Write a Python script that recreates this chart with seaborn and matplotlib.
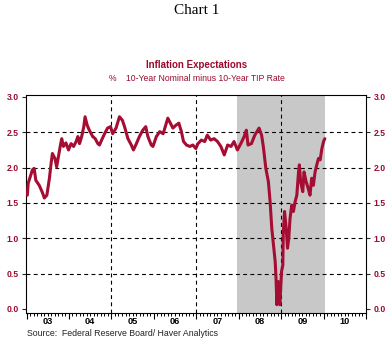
import numpy as np
import pandas as pd
import matplotlib
matplotlib.use("Agg")
import matplotlib.pyplot as plt
from matplotlib.ticker import FixedLocator, FixedFormatter
import seaborn as sns

# ---- data (decimal year, % spread) ----
dates = [
    2003.02, 2003.04, 2003.14, 2003.18, 2003.22, 2003.30, 2003.38, 2003.42, 2003.48, 2003.54,
    2003.58, 2003.61, 2003.67, 2003.71, 2003.73, 2003.80, 2003.83, 2003.87, 2003.93, 2003.99,
    2004.05, 2004.11, 2004.17, 2004.21, 2004.25, 2004.30, 2004.35, 2004.38, 2004.43, 2004.48,
    2004.56, 2004.62, 2004.68, 2004.72, 2004.77, 2004.84, 2004.91, 2004.98, 2005.03, 2005.11,
    2005.19, 2005.26, 2005.31, 2005.39, 2005.47, 2005.52, 2005.59, 2005.66, 2005.74, 2005.81,
    2005.86, 2005.94, 2005.98, 2006.06, 2006.14, 2006.22, 2006.28, 2006.33, 2006.39, 2006.45,
    2006.52, 2006.59, 2006.65, 2006.70, 2006.77, 2006.85, 2006.92, 2006.99, 2007.04, 2007.12,
    2007.20, 2007.26, 2007.34, 2007.42, 2007.50, 2007.58, 2007.66, 2007.74, 2007.82, 2007.89,
    2007.97, 2008.05, 2008.13, 2008.18, 2008.22, 2008.30, 2008.38, 2008.48, 2008.54, 2008.58,
    2008.64, 2008.70, 2008.74, 2008.78, 2008.82, 2008.86, 2008.88, 2008.90, 2008.93, 2008.97,
    2009.01, 2009.04, 2009.05, 2009.08, 2009.12, 2009.15, 2009.18, 2009.21, 2009.25, 2009.29,
    2009.33, 2009.37, 2009.41, 2009.43, 2009.46, 2009.51, 2009.54, 2009.59, 2009.64, 2009.68,
    2009.72, 2009.76, 2009.80, 2009.84, 2009.88, 2009.92, 2009.96, 2010.00, 2010.03,
]
spread = [
    1.61, 1.78, 1.97, 1.99, 1.82, 1.75, 1.64, 1.57, 1.61, 1.85,
    2.06, 2.20, 2.13, 2.01, 2.08, 2.32, 2.41, 2.30, 2.35, 2.25,
    2.34, 2.30, 2.37, 2.44, 2.34, 2.44, 2.58, 2.72, 2.60, 2.53,
    2.44, 2.41, 2.34, 2.32, 2.39, 2.48, 2.56, 2.58, 2.48, 2.56,
    2.72, 2.67, 2.58, 2.41, 2.32, 2.25, 2.34, 2.44, 2.53, 2.58,
    2.44, 2.32, 2.30, 2.44, 2.51, 2.48, 2.60, 2.70, 2.63, 2.56,
    2.60, 2.63, 2.51, 2.37, 2.32, 2.30, 2.32, 2.27, 2.34, 2.39,
    2.37, 2.46, 2.39, 2.41, 2.37, 2.30, 2.18, 2.32, 2.30, 2.37,
    2.25, 2.34, 2.44, 2.53, 2.32, 2.34, 2.46, 2.56, 2.46, 2.30,
    1.99, 1.80, 1.52, 1.14, 0.91, 0.67, 0.43, 0.06, 0.39, 0.06,
    0.53, 0.62, 1.05, 1.38, 1.14, 0.86, 1.00, 1.28, 1.47, 1.38,
    1.52, 1.61, 1.94, 2.04, 1.80, 1.66, 1.94, 1.80, 1.70, 1.61,
    1.85, 1.75, 1.94, 2.04, 2.13, 2.11, 2.27, 2.37, 2.41,
]
recession_start = 2007.95
recession_end = 2010.03
year_labels = ["03", "04", "05", "06", "07", "08", "09", "10"]
first_year = 2003
y_ticks = [0.0, 0.5, 1.0, 1.5, 2.0, 2.5, 3.0]
grid_years = [2005, 2007, 2009]

df = pd.DataFrame({"date": dates, "spread": spread})

RED = "#9c0a2e"
LINE = "#a50d33"

sns.set_style("ticks")
plt.rcParams["font.family"] = ["Liberation Sans", "DejaVu Sans"]

fig = plt.figure(figsize=(3.9, 3.44), dpi=100)
ax = fig.add_axes([26.5 / 390, 1 - 313 / 344, (366 - 26.5) / 390, (313 - 95) / 344])

ax.axvspan(recession_start, recession_end, color="#c8c8c8", lw=0, zorder=0)
for yv in y_ticks[1:-1]:
    ax.axhline(yv, color="black", lw=0.8, ls=(0, (3.5, 3)), zorder=1)
for xv in grid_years:
    ax.axvline(xv, color="black", lw=0.8, ls=(0, (3.5, 3)), zorder=1)

sns.lineplot(data=df, x="date", y="spread", ax=ax, color=LINE, lw=2.2, zorder=3)

n_years = len(year_labels)
ax.set_xlim(first_year, first_year + n_years)
ax.set_ylim(-0.057, 3.028)
ax.set_xlabel("")
ax.set_ylabel("")

# x axis: year ticks (long), monthly minor ticks with labels at mid-year
years = [first_year + i for i in range(n_years + 1)]
ax.xaxis.set_major_locator(FixedLocator(years))
ax.xaxis.set_major_formatter(FixedFormatter([""] * len(years)))
months = []
mlabels = []
for i in range(n_years):
    for m in range(1, 12):
        months.append(first_year + i + m / 12)
        mlabels.append(year_labels[i] if m == 6 else "")
ax.xaxis.set_minor_locator(FixedLocator(months))
ax.xaxis.set_minor_formatter(FixedFormatter(mlabels))
ax.tick_params(axis="x", which="major", length=4.5, width=0.8, direction="out", color="black")
ax.tick_params(axis="x", which="minor", length=2.2, width=0.7, direction="out", color="black",
               pad=1.0, labelsize=6.6, labelcolor="black")
for lab in ax.xaxis.get_minorticklabels():
    lab.set_fontweight("bold")

# y axis both sides
ax.set_yticks(y_ticks)
ax.set_yticklabels([f"{v:.1f}" for v in y_ticks])
ax.tick_params(axis="y", which="both", left=True, right=True, labelleft=True, labelright=True,
               length=3, width=0.8, direction="out", labelsize=6.2, labelcolor=RED, pad=2.5)
for t in ax.yaxis.get_major_ticks():
    t.label2.set_fontweight("bold")
    t.label1.set_fontweight("bold")

for s in ax.spines.values():
    s.set_visible(True)
    s.set_color("black")
    s.set_linewidth(0.8)

fig.text(197 / 390, 1 - 10 / 344, "Chart 1", ha="center", va="center",
         fontsize=11, family=["Liberation Serif", "DejaVu Serif"], color="black")
fig.text(197 / 390, 1 - 65.5 / 344, "Inflation Expectations", ha="center", va="center",
         fontsize=7, fontweight="bold", color=RED)
fig.text(197 / 390, 1 - 78.5 / 344, "%    10-Year Nominal minus 10-Year TIP Rate", ha="center",
         va="center", fontsize=6.2, color=RED)
fig.text(27 / 390, 1 - 333 / 344, "Source:  Federal Reserve Board/ Haver Analytics", ha="left",
         va="center", fontsize=6.3, color="#222222")

fig.savefig("out.png", dpi=100)
